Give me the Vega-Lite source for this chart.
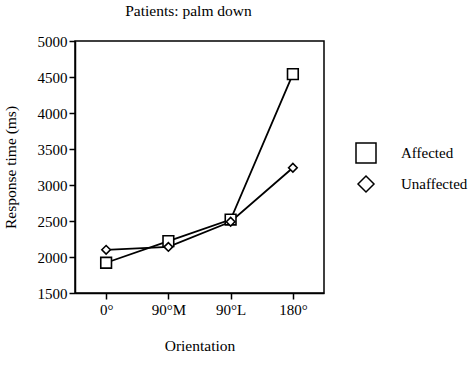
{
  "$schema": "https://vega.github.io/schema/vega-lite/v6.json",
  "autosize": "none",
  "width": 249,
  "height": 252,
  "padding": {"left": 75, "top": 41, "right": 150, "bottom": 81},
  "background": "white",
  "title": {"text": "Patients: palm down", "fontSize": 15.5, "font": "Liberation Serif", "fontWeight": "normal", "color": "black", "offset": 15, "dx": -11},
  "config": {
    "view": {"stroke": "black", "strokeWidth": 1.5},
    "font": "Liberation Serif",
    "axis": {"labelFont": "Liberation Serif", "titleFont": "Liberation Serif", "labelFontSize": 15, "titleFontSize": 15.5, "titleFontWeight": "normal", "labelColor": "black", "titleColor": "black", "domainColor": "black", "tickColor": "black", "domainWidth": 1.5, "tickWidth": 1.5, "tickSize": 6, "grid": false}
  },
  "data": {"values": [
    {"orientation": "0°", "group": "Affected", "rt": 1920},
    {"orientation": "90°M", "group": "Affected", "rt": 2220},
    {"orientation": "90°L", "group": "Affected", "rt": 2520},
    {"orientation": "180°", "group": "Affected", "rt": 4540},
    {"orientation": "0°", "group": "Unaffected", "rt": 2100},
    {"orientation": "90°M", "group": "Unaffected", "rt": 2140},
    {"orientation": "90°L", "group": "Unaffected", "rt": 2490},
    {"orientation": "180°", "group": "Unaffected", "rt": 3240}
  ]},
  "encoding": {
    "x": {"field": "orientation", "type": "nominal", "sort": ["0°", "90°M", "90°L", "180°"], "scale": {"type": "point", "padding": 0.5},
      "axis": {"title": "Orientation", "labelAngle": 0, "labelPadding": 3, "titlePadding": 21}},
    "y": {"field": "rt", "type": "quantitative", "scale": {"domain": [1500, 5000], "nice": false},
      "axis": {"title": "Response time (ms)", "format": "d", "values": [1500, 2000, 2500, 3000, 3500, 4000, 4500, 5000], "labelPadding": 2, "titlePadding": 19}}
  },
  "layer": [
    {"mark": {"type": "line", "color": "black", "strokeWidth": 1.8},
     "encoding": {"detail": {"field": "group"}}},
    {"mark": {"type": "point", "filled": false, "fill": "white", "stroke": "black", "strokeWidth": 1.6, "opacity": 1, "size": 115},
     "encoding": {
       "shape": {"field": "group", "type": "nominal", "scale": {"domain": ["Affected", "Unaffected"], "range": ["square", "M-0.8,0L0,-0.8L0.8,0L0,0.8Z"]},
         "legend": {"title": null, "orient": "none", "legendX": 280, "legendY": 101, "symbolSize": 400, "symbolStrokeWidth": 1.5, "labelFont": "Liberation Serif", "labelFontSize": 15, "labelColor": "black", "labelOffset": 24, "rowPadding": 7,
           "encode": {"symbols": {"update": {"shape": {"signal": "datum.value === 'Affected' ? 'M-2.4,0L-0.45,0M0.45,0L2.4,0M-0.45,-0.45L0.45,-0.45L0.45,0.45L-0.45,0.45Z' : 'M-2.4,0L-0.35,0M0.35,0L2.4,0M-0.35,0L0,-0.35L0.35,0L0,0.35Z'"}, "fill": {"value": "white"}, "stroke": {"value": "black"}, "strokeWidth": {"value": 1.5}, "opacity": {"value": 1}}}}}}
     }}
  ]
}
